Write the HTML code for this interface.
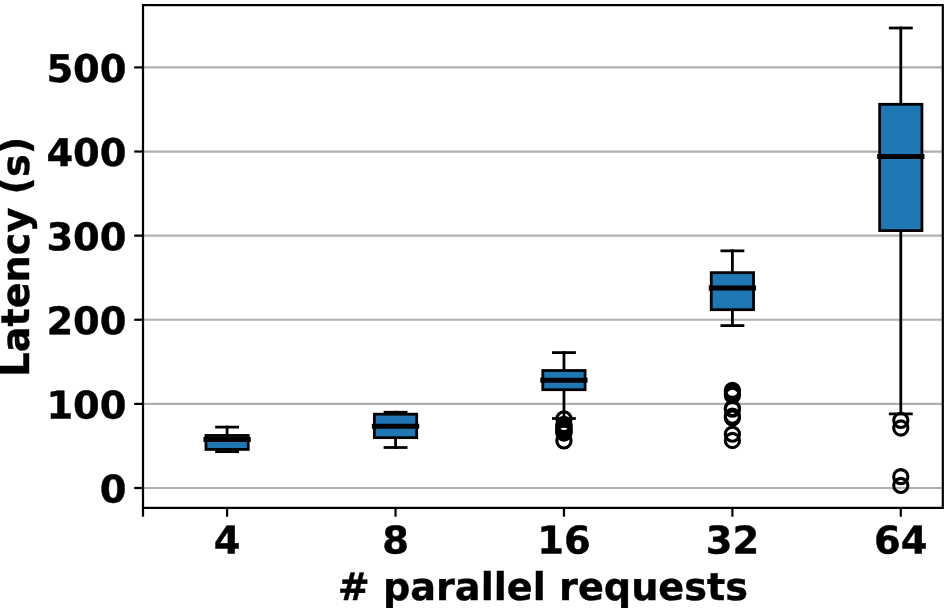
<!DOCTYPE html>
<html lang="en">
<head>
<meta charset="utf-8">
<title>Latency vs # parallel requests</title>
<style>
html,body{margin:0;padding:0;background:#fff;}
body{width:950px;height:608px;overflow:hidden;}
svg{display:block;will-change:transform;filter:opacity(1);}
text{font-family:"DejaVu Sans","Liberation Sans",sans-serif;font-weight:bold;font-size:38.2px;fill:#000;stroke:#000;stroke-width:0.4px;}
</style>
</head>
<body>
<svg width="950" height="608" viewBox="0 0 950 608">
<rect x="0" y="0" width="950" height="608" fill="#ffffff"/>
<g stroke="#b0b0b0" stroke-width="2.22" fill="none">
<line x1="143.0" x2="942.8" y1="488.00" y2="488.00"/>
<line x1="143.0" x2="942.8" y1="403.88" y2="403.88"/>
<line x1="143.0" x2="942.8" y1="319.76" y2="319.76"/>
<line x1="143.0" x2="942.8" y1="235.64" y2="235.64"/>
<line x1="143.0" x2="942.8" y1="151.52" y2="151.52"/>
<line x1="143.0" x2="942.8" y1="67.40" y2="67.40"/>
</g>
<g stroke="#000" stroke-width="2.78" fill="none" stroke-linecap="square">
<rect x="205.95" y="435.45" width="42.30" height="13.95" fill="#1f77b4" stroke-linejoin="miter"/>
<line x1="227.10" x2="227.10" y1="435.45" y2="425.71" stroke-linecap="butt"/>
<line x1="227.10" x2="227.10" y1="449.40" y2="453.04" stroke-linecap="butt"/>
<line x1="216.55" x2="237.65" y1="427.10" y2="427.10"/>
<line x1="216.55" x2="237.65" y1="451.65" y2="451.65"/>
<rect x="374.40" y="414.20" width="42.30" height="23.45" fill="#1f77b4" stroke-linejoin="miter"/>
<line x1="395.55" x2="395.55" y1="414.20" y2="410.86" stroke-linecap="butt"/>
<line x1="395.55" x2="395.55" y1="437.65" y2="448.89" stroke-linecap="butt"/>
<line x1="385.00" x2="406.10" y1="412.25" y2="412.25"/>
<line x1="385.00" x2="406.10" y1="447.50" y2="447.50"/>
<rect x="542.80" y="370.50" width="42.30" height="19.20" fill="#1f77b4" stroke-linejoin="miter"/>
<line x1="563.95" x2="563.95" y1="370.50" y2="351.21" stroke-linecap="butt"/>
<line x1="563.95" x2="563.95" y1="389.70" y2="419.89" stroke-linecap="butt"/>
<line x1="553.40" x2="574.50" y1="352.60" y2="352.60"/>
<line x1="553.40" x2="574.50" y1="418.50" y2="418.50"/>
<rect x="711.25" y="272.65" width="42.30" height="37.05" fill="#1f77b4" stroke-linejoin="miter"/>
<line x1="732.40" x2="732.40" y1="272.65" y2="249.46" stroke-linecap="butt"/>
<line x1="732.40" x2="732.40" y1="309.70" y2="326.99" stroke-linecap="butt"/>
<line x1="721.85" x2="742.95" y1="250.85" y2="250.85"/>
<line x1="721.85" x2="742.95" y1="325.60" y2="325.60"/>
<rect x="879.65" y="104.30" width="42.30" height="126.30" fill="#1f77b4" stroke-linejoin="miter"/>
<line x1="900.80" x2="900.80" y1="104.30" y2="26.61" stroke-linecap="butt"/>
<line x1="900.80" x2="900.80" y1="230.60" y2="415.29" stroke-linecap="butt"/>
<line x1="890.25" x2="911.35" y1="28.00" y2="28.00"/>
<line x1="890.25" x2="911.35" y1="413.90" y2="413.90"/>
</g>
<g stroke="#000" stroke-width="5.0" stroke-linecap="square">
<line x1="205.95" x2="248.25" y1="439.50" y2="439.50"/>
<line x1="374.40" x2="416.70" y1="426.20" y2="426.20"/>
<line x1="542.80" x2="585.10" y1="380.30" y2="380.30"/>
<line x1="711.25" x2="753.55" y1="287.95" y2="287.95"/>
<line x1="879.65" x2="921.95" y1="156.55" y2="156.55"/>
</g>
<g stroke="#000" stroke-width="3.1" fill="none">
<circle cx="563.95" cy="418.90" r="7.1"/>
<circle cx="563.95" cy="424.50" r="7.1"/>
<circle cx="563.95" cy="425.50" r="7.1"/>
<circle cx="563.95" cy="427.50" r="7.1"/>
<circle cx="563.95" cy="429.00" r="7.1"/>
<circle cx="563.95" cy="430.50" r="7.1"/>
<circle cx="563.95" cy="431.80" r="7.1"/>
<circle cx="563.95" cy="433.00" r="7.1"/>
<circle cx="563.95" cy="440.90" r="7.1"/>
<circle cx="732.40" cy="390.30" r="7.1"/>
<circle cx="732.40" cy="392.00" r="7.1"/>
<circle cx="732.40" cy="393.70" r="7.1"/>
<circle cx="732.40" cy="395.35" r="7.1"/>
<circle cx="732.40" cy="408.40" r="7.1"/>
<circle cx="732.40" cy="409.20" r="7.1"/>
<circle cx="732.40" cy="416.10" r="7.1"/>
<circle cx="732.40" cy="418.00" r="7.1"/>
<circle cx="732.40" cy="434.20" r="7.1"/>
<circle cx="732.40" cy="440.50" r="7.1"/>
<circle cx="900.80" cy="420.35" r="7.1"/>
<circle cx="900.80" cy="428.00" r="7.1"/>
<circle cx="900.80" cy="476.70" r="7.1"/>
<circle cx="900.80" cy="485.45" r="7.1"/>
</g>
<rect x="143.0" y="5.1" width="799.80" height="502.80" fill="none" stroke="#000" stroke-width="2.22" stroke-linejoin="miter"/>
<g stroke="#000" stroke-width="2.22">
<line x1="134.20" x2="143.0" y1="488.00" y2="488.00"/>
<line x1="134.20" x2="143.0" y1="403.88" y2="403.88"/>
<line x1="134.20" x2="143.0" y1="319.76" y2="319.76"/>
<line x1="134.20" x2="143.0" y1="235.64" y2="235.64"/>
<line x1="134.20" x2="143.0" y1="151.52" y2="151.52"/>
<line x1="134.20" x2="143.0" y1="67.40" y2="67.40"/>
<line x1="143.00" x2="143.00" y1="507.9" y2="516.70"/>
<line x1="227.10" x2="227.10" y1="507.9" y2="516.70"/>
<line x1="395.55" x2="395.55" y1="507.9" y2="516.70"/>
<line x1="563.95" x2="563.95" y1="507.9" y2="516.70"/>
<line x1="732.40" x2="732.40" y1="507.9" y2="516.70"/>
<line x1="900.80" x2="900.80" y1="507.9" y2="516.70"/>
</g>
<text transform="translate(126.5 502.60) rotate(0.03) scale(1.005 1.0)" text-anchor="end" style="font-size:38.2px">0</text>
<text transform="translate(126.5 418.48) rotate(0.03) scale(1.005 1.0)" text-anchor="end" style="font-size:38.2px">100</text>
<text transform="translate(126.5 334.36) rotate(0.03) scale(1.005 1.0)" text-anchor="end" style="font-size:38.2px">200</text>
<text transform="translate(126.5 250.24) rotate(0.03) scale(1.005 1.0)" text-anchor="end" style="font-size:38.2px">300</text>
<text transform="translate(126.5 166.12) rotate(0.03) scale(1.005 1.0)" text-anchor="end" style="font-size:38.2px">400</text>
<text transform="translate(126.5 82.00) rotate(0.03) scale(1.005 1.0)" text-anchor="end" style="font-size:38.2px">500</text>
<text transform="translate(227.10 553.5) rotate(0.03) scale(1.005 1.0)" text-anchor="middle" style="font-size:38.2px">4</text>
<text transform="translate(395.55 553.5) rotate(0.03) scale(1.005 1.0)" text-anchor="middle" style="font-size:38.2px">8</text>
<text transform="translate(563.95 553.5) rotate(0.03) scale(1.005 1.0)" text-anchor="middle" style="font-size:38.2px">16</text>
<text transform="translate(732.40 553.5) rotate(0.03) scale(1.005 1.0)" text-anchor="middle" style="font-size:38.2px">32</text>
<text transform="translate(900.80 553.5) rotate(0.03) scale(1.005 1.0)" text-anchor="middle" style="font-size:38.2px">64</text>
<text transform="translate(542.8 600.0) rotate(0.03)" text-anchor="middle"># parallel requests</text>
<text transform="translate(29.2 256.7) rotate(-90)" text-anchor="middle">Latency (s)</text>
</svg>
</body>
</html>
